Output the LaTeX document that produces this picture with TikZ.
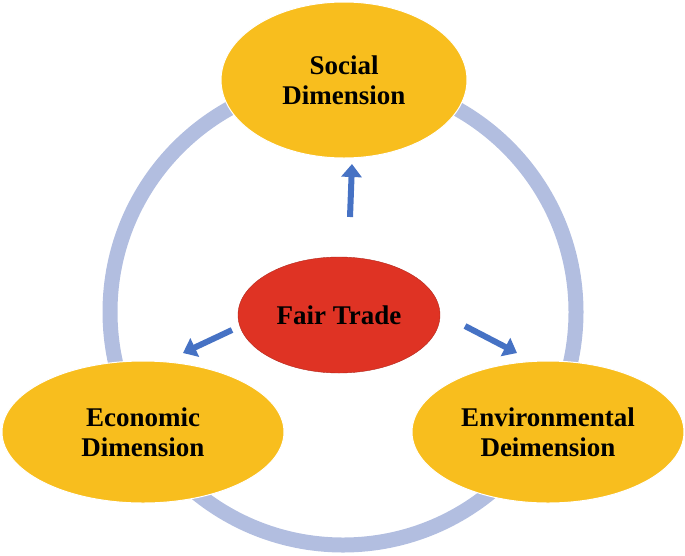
\documentclass[tikz,border=0pt]{standalone}
\usepackage{fontspec}
\setmainfont{Liberation Serif}
\usetikzlibrary{shapes.geometric,arrows.meta}
\definecolor{ringblue}{RGB}{178,190,224}
\definecolor{dimyellow}{RGB}{248,190,30}
\definecolor{fairred}{RGB}{223,51,36}
\definecolor{arrowblue}{RGB}{70,114,196}
\tikzset{
  dim/.style={ellipse,fill=dimyellow,draw=white,line width=1pt,font=\bfseries\fontsize{27}{30}\selectfont,align=center,inner sep=0pt},
  flow/.style={arrowblue,line width=6pt,-{Triangle[length=13pt,width=20pt]}}
}
\begin{document}
\begin{tikzpicture}[x=1pt,y=-1pt]
      \useasboundingbox (0,0) rectangle (685,555);
      \draw[ringblue,line width=15pt] (343,312) circle (233);

      \node [dim,minimum width=246pt,minimum height=156pt] (social) at (344,80) {Social\\Dimension};
      \node [dim,minimum width=282pt,minimum height=142pt] (econ) at (143,432) {Economic\\Dimension};
      \node [dim,minimum width=272pt,minimum height=142pt] (env) at (548,432) {Environmental\\Deimension};
      \node [ellipse,fill=fairred,draw=fairred!80!black,minimum width=202pt,minimum height=116pt,font=\bfseries\fontsize{27}{30}\selectfont] (fair) at (339,315) {Fair Trade};

      \coordinate (upfrom) at (350,217);
      \coordinate (upto) at (352,164);
      \coordinate (leftfrom) at (232,330);
      \coordinate (leftto) at (183,353);
      \coordinate (rightfrom) at (465,326);
      \coordinate (rightto) at (517,353);

      \draw[flow] (upfrom) -- (upto);
      \draw[flow] (leftfrom) -- (leftto);
      \draw[flow] (rightfrom) -- (rightto);
\end{tikzpicture}
\end{document}
